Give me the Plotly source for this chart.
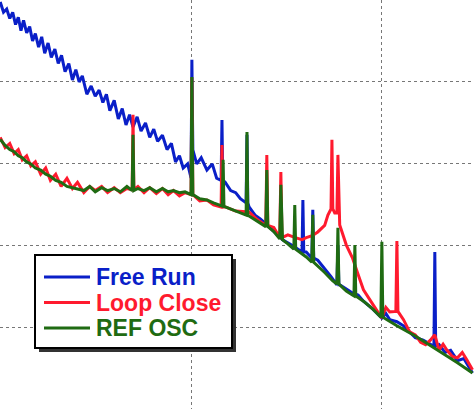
import plotly.graph_objects as go

# Free run (blue)
blue_f = [98, 102, 106, 110, 114, 118, 122, 126, 130, 135, 140, 145, 150, 156, 162, 168, 175, 182,
          190, 198, 206, 215, 225, 235, 245, 255, 265, 280, 295, 310, 325, 340, 355, 370, 390, 410,
          430, 450, 470, 490, 515, 540, 570, 600, 630, 660, 700, 740, 780, 820, 860, 900, 950, 990,
          1000, 1012, 1060, 1120, 1200, 1280, 1350, 1425, 1440, 1455, 1500, 1600, 1700, 1800, 1930,
          1950, 1970, 2000, 2150, 2300, 2500, 2700, 3000, 3400, 3800, 3840, 3880, 4000, 4280, 4330,
          4380, 4600, 5000, 5400, 5800, 5870, 5940, 6000, 6500, 7000, 7500, 8000, 9000, 10000,
          10500, 11000, 12000, 13000, 14000, 15000, 16500, 18800, 19000, 19200, 20000, 21500,
          23000, 25000, 27000, 30000]
blue_db = [-40.5, -43, -42.2, -44.5, -43, -46, -44.2, -47.5, -45, -48, -46.5, -50, -48.2, -51.5, -49,
           -53, -50.5, -54, -52, -55.5, -53.5, -57.5, -55.5, -59.5, -57, -60, -58.5, -63, -61, -63.5,
           -62, -65, -63, -67, -64.5, -69, -66.5, -70.5, -68, -71, -68.5, -72, -70, -73.5, -71.5,
           -74.5, -73, -76.5, -75, -79.5, -78, -81, -80, -83.4, -54.6, -76.6, -80, -78.5, -81.5, -80,
           -83.5, -84, -69.3, -85, -84.5, -86.5, -87, -88.5, -89.5, -72.9, -89.5, -90.5, -92.5,
           -93.5, -95, -96.5, -98.5, -100, -101.5, -88.8, -101.5, -101.5, -103, -91.2, -103, -103.5,
           -105.5, -107.5, -109.5, -99.8, -109.5, -109.5, -110.5, -111.5, -112, -113.5, -115.5,
           -117.6, -116.5, -118, -118.5, -119.5, -121, -122.4, -123, -124.5, -101.5, -124.5, -124.1,
           -126, -125.5, -128, -127.5, -131]

# Loop close (red)
red_f = [98, 104, 110, 116, 122, 128, 135, 142, 150, 160, 170, 180, 192, 205, 220, 235, 250, 270,
         290, 310, 335, 360, 390, 420, 455, 485, 490, 495, 520, 560, 600, 650, 700, 750, 800, 860,
         920, 990, 1000, 1012, 1100, 1200, 1300, 1425, 1440, 1455, 1500, 1700, 2000, 2200, 2450,
         2480, 2510, 2700, 2900, 2940, 2980, 3200, 3500, 3800, 4000, 4300, 4600, 5000, 5200, 5400,
         5460, 5520, 5650, 5800, 5870, 5940, 6000, 6500, 7000, 7500, 8000, 9000, 10000, 10500,
         11000, 11850, 12000, 12150, 13000, 14000, 15000, 16000, 17000, 18000, 19000, 20000, 21000,
         22000, 23500, 25000, 26500, 28000, 30000]
red_db = [-73.5, -76, -75, -77.5, -76.5, -79, -78, -80.5, -79.5, -82.5, -81, -84, -82.5, -85.5, -83.5,
          -86, -84.5, -87, -85.5, -86.5, -85.5, -87, -85.8, -87, -86, -86.3, -68, -86.3, -85.5, -87,
          -85.8, -87.2, -86, -87.5, -86.5, -87.8, -87, -87.5, -59, -87.5, -89, -88.8, -90, -90.5,
          -75.4, -90.5, -90.5, -91.5, -91.7, -93.5, -95, -77.8, -95, -95.5, -98, -82, -98, -97.3,
          -98, -98.5, -98, -97.5, -96.6, -95, -92.5, -91, -74.1, -91, -92, -92, -77.8, -92, -94.9,
          -99.8, -102.9, -107, -110.7, -114.4, -117.6, -115, -116.1, -116, -98.8, -116, -118, -121,
          -121.7, -123.5, -124.1, -123, -121.7, -125.4, -124, -125.4, -127, -127.3, -126, -127.8,
          -130.2]

# Reference oscillator (green)
green_f = [98, 104, 110, 116, 122, 128, 135, 142, 150, 160, 170, 180, 192, 205, 220, 235, 250, 270,
           290, 310, 335, 360, 390, 420, 455, 485, 490, 495, 520, 560, 600, 650, 700, 750, 800, 860,
           920, 990, 1000, 1012, 1100, 1200, 1300, 1445, 1460, 1475, 1500, 1700, 1930, 1950, 1970,
           2000, 2200, 2450, 2480, 2510, 2700, 2900, 2940, 2980, 3000, 3200, 3440, 3480, 3520, 4000,
           4280, 4330, 4380, 5000, 5500, 5800, 5870, 5940, 6000, 6500, 7000, 7130, 7210, 7290, 8000,
           9000, 9880, 10000, 10120, 12000, 15000, 20000, 25000, 30000]
green_db = [-74, -75.5, -76.5, -77, -78, -78.5, -79.5, -80, -81, -81.5, -82.5, -83, -84, -84.5, -85.5,
            -85.8, -86, -86.5, -85.5, -86.8, -85.8, -86.5, -86, -86.8, -85.5, -86.5, -72.9, -86.5,
            -86, -86.5, -85.8, -86.8, -86, -86.8, -86.5, -87, -86.8, -87.5, -58.8, -87.5, -88.5,
            -88.8, -89.5, -90.3, -79, -90.3, -90.5, -91.5, -92.5, -72.2, -92.5, -92.7, -94, -95.3,
            -81.5, -95.3, -96.5, -98.3, -85.1, -98.3, -98.5, -99.5, -100.8, -90, -100.8, -102.7,
            -104, -92.4, -104, -106.5, -108.5, -109.3, -95.6, -109.3, -109.5, -111, -112, -112.2,
            -99.8, -112.2, -113.5, -115.5, -117.4, -99, -117.4, -119.5, -122, -125.6, -128.5, -131]

series = [
    ("Free Run", blue_f, blue_db, "#0a1fc8"),
    ("Loop Close", red_f, red_db, "#ff1a2e"),
    ("REF OSC", green_f, green_db, "#1f6b12"),
]

W, H = 474, 409
px = lambda x: x / W
py = lambda y: 1 - y / H

fig = go.Figure()
for name, f, db, col in series:
    fig.add_trace(go.Scatter(x=f, y=db, mode="lines", line=dict(color=col, width=3), name=name))

# hand-built legend box (shadow + frame + samples)
fig.add_shape(type="rect", xref="paper", yref="paper", x0=px(39), x1=px(236), y0=py(352), y1=py(259),
              fillcolor="#333", line_width=0, layer="above")
fig.add_shape(type="rect", xref="paper", yref="paper", x0=px(35), x1=px(232), y0=py(348), y1=py(255),
              fillcolor="white", line=dict(color="black", width=2), layer="above")
for i, (name, f, db, col) in enumerate(series):
    yy = 277 + i * 25.5
    fig.add_shape(type="line", xref="paper", yref="paper", x0=px(44), x1=px(90), y0=py(yy), y1=py(yy),
                  line=dict(color=col, width=3), layer="above")
    fig.add_annotation(xref="paper", yref="paper", x=px(94), y=py(yy), xanchor="left", yanchor="middle",
                       text="<b>%s</b>" % name, showarrow=False,
                       font=dict(family="Liberation Sans", size=23, color=col))

fig.update_layout(
    width=W, height=H, margin=dict(l=0, r=0, t=0, b=0),
    plot_bgcolor="white", paper_bgcolor="white", showlegend=False,
    xaxis=dict(type="log", range=[1.99, 4.485], showticklabels=False, ticks="",
               tickvals=[1000, 10000], showgrid=True, gridcolor="#777", griddash="dot",
               zeroline=False, showline=True, linecolor="#888", mirror=True),
    yaxis=dict(range=[-139.8, -40], showticklabels=False, ticks="",
               tickvals=[-60, -80, -100, -120], showgrid=True, gridcolor="#777", griddash="dot",
               zeroline=False, showline=True, linecolor="#888", mirror=True),
)
fig.write_html("out.html", config={"displayModeBar": False},
               post_script="document.body.style.margin='0';")
